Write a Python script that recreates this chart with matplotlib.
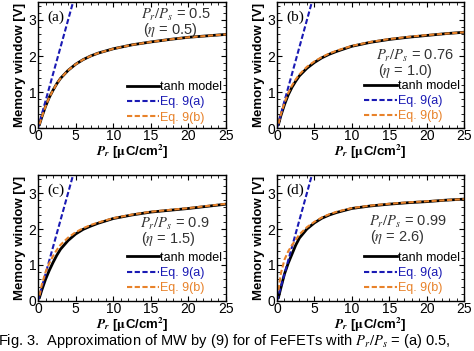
import numpy as np
import matplotlib
matplotlib.use('Agg')
import matplotlib.pyplot as plt
from matplotlib.ticker import MultipleLocator

params = {
    'font.family'      : 'Liberation Sans',
    'mathtext.fontset' : 'stix',
    'font.size'        : 9,
    'xtick.direction'  : 'in',
    'ytick.direction'  : 'in',
    'xtick.top'        : True,
    'ytick.right'      : True,
}
matplotlib.rcParams.update(params)

# data
pr = [0.2, 0.5, 1, 1.5, 2, 2.5, 3, 4, 5, 6, 7, 8, 10, 12.5, 15, 17.5, 20, 22.5, 25]

tanh_a = [0.1, 0.3, 0.6, 0.85, 1.05, 1.23, 1.38, 1.6, 1.77, 1.9, 2.0, 2.08, 2.2, 2.31, 2.39, 2.46, 2.52, 2.56, 2.6]
eq9b_a = [0.1, 0.3, 0.6, 0.85, 1.05, 1.23, 1.38, 1.6, 1.77, 1.9, 2.0, 2.08, 2.2, 2.31, 2.39, 2.46, 2.52, 2.56, 2.6]

tanh_b = [0.1, 0.33, 0.65, 0.92, 1.13, 1.3, 1.45, 1.66, 1.82, 1.95, 2.05, 2.13, 2.27, 2.38, 2.46, 2.52, 2.57, 2.62, 2.66]
eq9b_b = [0.12, 0.37, 0.7, 0.97, 1.18, 1.35, 1.49, 1.7, 1.85, 1.97, 2.07, 2.15, 2.28, 2.39, 2.47, 2.53, 2.58, 2.62, 2.66]

tanh_c = [0.1, 0.3, 0.6, 0.85, 1.07, 1.27, 1.44, 1.68, 1.86, 1.99, 2.08, 2.16, 2.29, 2.39, 2.47, 2.52, 2.57, 2.63, 2.69]
eq9b_c = [0.15, 0.45, 0.8, 1.05, 1.25, 1.42, 1.56, 1.76, 1.91, 2.02, 2.11, 2.18, 2.3, 2.4, 2.48, 2.53, 2.58, 2.64, 2.7]

tanh_d = [0.1, 0.35, 0.75, 1.05, 1.3, 1.55, 1.75, 2.0, 2.17, 2.3, 2.39, 2.46, 2.57, 2.64, 2.69, 2.73, 2.76, 2.8, 2.83]
eq9b_d = [0.3, 0.75, 1.15, 1.38, 1.55, 1.7, 1.85, 2.05, 2.2, 2.32, 2.41, 2.48, 2.58, 2.65, 2.7, 2.74, 2.77, 2.8, 2.83]

# Eq. 9(a) straight line
eq9a_x = [0, 5]
eq9a_y = [0, 3.75]

panel_labels = ['(a)', '(b)', '(c)', '(d)']
ratios = ['0.5', '0.76', '0.9', '0.99']
etas = ['0.5', '1.0', '1.5', '2.6']
tanh_all = [tanh_a, tanh_b, tanh_c, tanh_d]
eq9b_all = [eq9b_a, eq9b_b, eq9b_c, eq9b_d]

W, H = 474, 351
fig = plt.figure(figsize=(W/100, H/100), dpi=100)

# axes boxes in pixels: left, top, right, bottom
boxes = [(38, 2, 226, 128), (277, 2, 464, 128),
         (38, 175, 226, 301), (277, 175, 464, 301)]
# where the Pr/Ps note sits (axes fraction, centre of first line)
note_pos = [(0.55, 0.90), (0.53, 0.57), (0.54, 0.61), (0.49, 0.63)]
leg_y = [0.43, 0.44, 0.45, 0.45]

for i in range(4):
    l, t, r, b = boxes[i]
    ax = fig.add_axes([l/W, 1 - b/H, (r - l)/W, (b - t)/H])
    ax.plot(pr, tanh_all[i], color='k', lw=2.0, label='tanh model')
    ax.plot(eq9a_x, eq9a_y, color='#1a1ab4', lw=1.5, ls=(0, (2.5, 1.2)), label='Eq. 9(a)')
    ax.plot(pr, eq9b_all[i], color='#e8822a', lw=1.5, ls=(0, (2.5, 1.2)), label='Eq. 9(b)')
    ax.set_xlim(0, 25)
    ax.set_ylim(0, 3.5)
    ax.xaxis.set_major_locator(MultipleLocator(5))
    ax.xaxis.set_minor_locator(MultipleLocator(1))
    ax.yaxis.set_major_locator(MultipleLocator(1))
    ax.yaxis.set_minor_locator(MultipleLocator(0.2))
    ax.tick_params(which='major', length=3.5, width=0.8, labelsize=10, pad=1)
    ax.tick_params(which='minor', length=2, width=0.6)
    for s in ax.spines.values():
        s.set_linewidth(1.0)
    ax.set_xlabel(r'$\mathbfit{P_r}$ [$\mathbf{\mu}$C/cm$^\mathbf{2}$]', fontsize=9.5,
                  fontweight='bold', labelpad=0)
    ax.set_ylabel('Memory window [V]', fontsize=9.5, fontweight='bold', labelpad=2)
    ax.text(0.05, 0.88, panel_labels[i], transform=ax.transAxes, fontsize=11,
            family='Liberation Serif', va='center')
    nx, ny = note_pos[i]
    ax.text(nx, ny, r'$P_r/P_s$ = ' + ratios[i], transform=ax.transAxes,
            fontsize=10.5, va='center', color='#333333')
    ax.text(nx + 0.01, ny - 0.12, r'($\eta$ = ' + etas[i] + ')', transform=ax.transAxes,
            fontsize=10.5, va='center', color='#333333')
    leg = ax.legend(loc='upper right', bbox_to_anchor=(1.02, leg_y[i]), frameon=False,
                    fontsize=9, handlelength=2.6, handletextpad=0.1, labelspacing=0.25,
                    borderaxespad=0.2)
    for txt, c in zip(leg.get_texts(), ['k', '#1a1ab4', '#e8822a']):
        txt.set_color(c)

fig.text(-0.005, 1 - 341/H, r'Fig. 3.  Approximation of MW by (9) for of FeFETs with $\mathit{P_r/P_s}$ = (a) 0.5,',
         fontsize=10.5, va='center', ha='left')

fig.savefig('out.png', dpi=100)
